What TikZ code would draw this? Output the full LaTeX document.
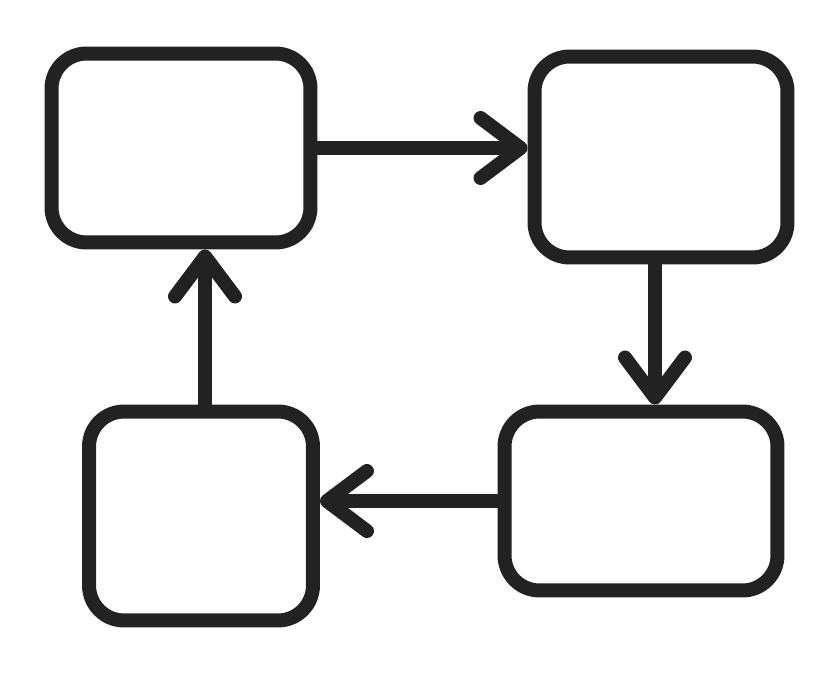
\documentclass[tikz,border=0pt]{standalone}
\usetikzlibrary{arrows.meta}
\definecolor{ink}{HTML}{222222}
\begin{document}
\begin{tikzpicture}[x=0.02cm, y=-0.02cm,
  stepbox/.style={draw=ink, line width=0.28cm, rounded corners=0.7cm, inner sep=0pt},
  flow/.style={draw=ink, line width=0.28cm, line cap=round,
    -{Straight Barb[length=0.8cm, width=1.2cm, line cap=round, line join=round]}}]
\useasboundingbox (0,0) rectangle (835,683);
\node[stepbox, minimum width=5.18cm, minimum height=3.78cm] at (181,148) (tl) {};
\node[stepbox, minimum width=5.06cm, minimum height=4.02cm] at (661,157) (tr) {};
\node[stepbox, minimum width=4.48cm, minimum height=4.18cm] at (201,516) (bl) {};
\node[stepbox, minimum width=5.46cm, minimum height=3.58cm] at (641,501) (br) {};

\draw[flow] (tl.east) -- (tr.west |- tl.east);
\draw[flow] ([xshift=-0.12cm]tr.south) -- ([xshift=-0.12cm]tr.south |- br.north);
\draw[flow] (br.west) -- (bl.east |- br.west);
\draw[flow] ([xshift=0.08cm]bl.north) -- ([xshift=0.08cm]bl.north |- tl.south);
\end{tikzpicture}
\end{document}
